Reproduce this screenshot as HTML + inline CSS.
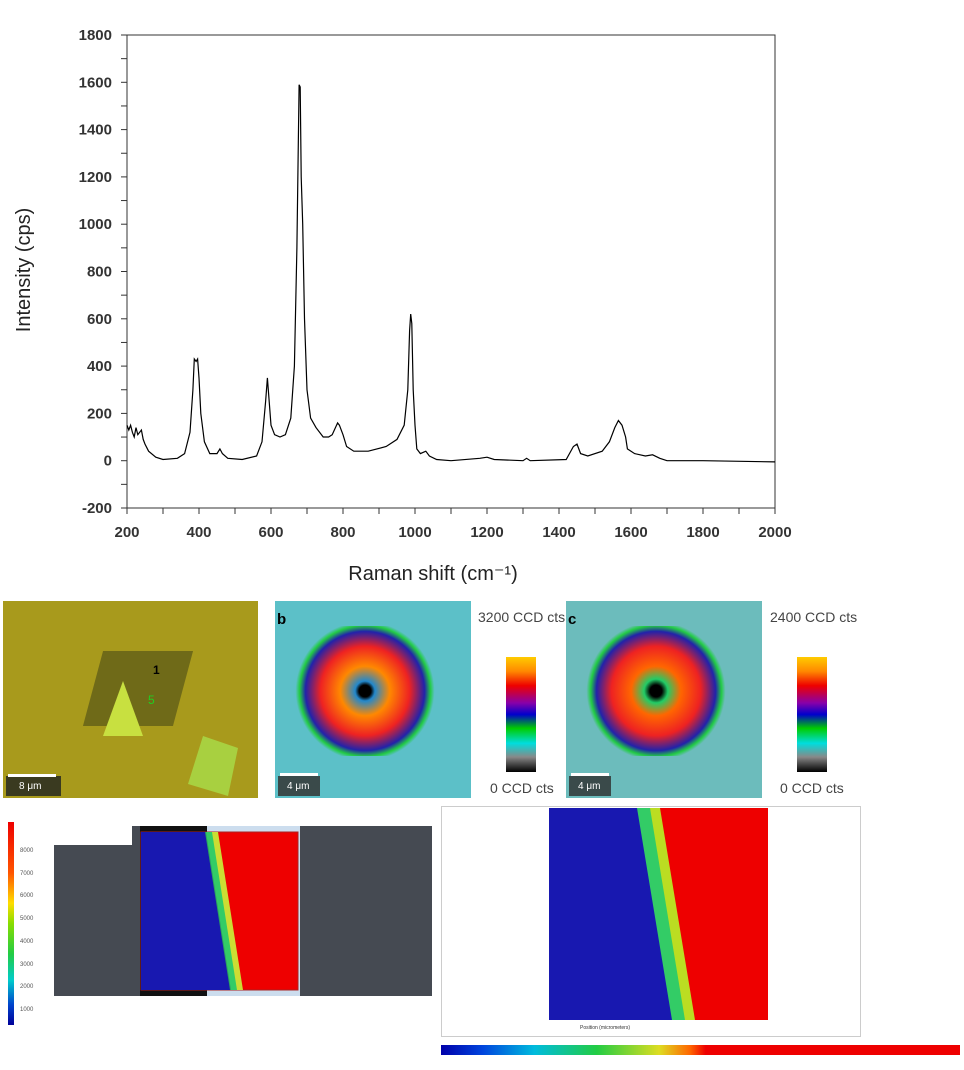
<!DOCTYPE html>
<html><head><meta charset="utf-8"><style>
body{margin:0;background:#fff;width:964px;height:1070px;overflow:hidden;position:relative;font-family:"Liberation Sans",sans-serif}
.a{position:absolute}
</style></head><body>
<svg class="a" style="left:0;top:0" width="964" height="600" id="ch">
<rect x="127" y="35" width="648" height="473" fill="none" stroke="#333" stroke-width="1"/>
<g id="tk" stroke="#333" stroke-width="1"></g>
<g id="lb" font-family="Liberation Sans" font-size="15" fill="#333" font-weight="bold"></g>
<path id="sp" fill="none" stroke="#000" stroke-width="1.2"/>
<text x="30" y="270" transform="rotate(-90 30 270)" text-anchor="middle" font-size="20" fill="#222">Intensity (cps)</text>
<text x="433" y="580" text-anchor="middle" font-size="20" fill="#222">Raman shift (cm⁻¹)</text>
</svg>
<script>
var X=w=>127+(w-200)*0.36,Y=v=>35+(1800-v)*0.2365;
var tk='',lb='';
for(var v=-200;v<=1800;v+=100){var y=Y(v);tk+='<line x1="121" x2="127" y1="'+y+'" y2="'+y+'"/>';if(v%200==0)lb+='<text x="112" y="'+(y+5)+'" text-anchor="end">'+v+'</text>';}
for(var w=200;w<=2000;w+=100){var x=X(w);tk+='<line x1="'+x+'" x2="'+x+'" y1="508" y2="514"/>';if(w%200==0)lb+='<text x="'+x+'" y="537" text-anchor="middle">'+w+'</text>';}
document.getElementById('tk').innerHTML=tk;document.getElementById('lb').innerHTML=lb;
var p=[200,150,205,130,210,150,215,120,220,100,225,140,230,110,240,130,245,90,250,70,260,40,280,15,300,5,340,10,360,30,375,120,383,300,387,430,392,420,396,430,400,350,405,200,415,80,430,30,450,30,458,50,465,30,480,10,520,5,560,20,575,80,585,250,590,350,595,250,600,150,610,110,625,100,640,110,655,180,665,400,672,900,678,1590,681,1580,684,1200,688,1000,693,600,700,300,710,180,725,140,745,100,760,100,770,110,785,160,790,150,800,110,810,60,830,40,870,40,920,60,950,90,970,150,980,300,985,550,988,620,991,580,995,300,1000,150,1005,50,1015,30,1030,40,1040,20,1060,5,1100,0,1180,10,1200,15,1220,5,1300,0,1310,10,1320,0,1420,5,1440,60,1450,70,1460,30,1480,20,1520,40,1540,80,1555,140,1565,170,1575,150,1585,100,1590,50,1610,30,1640,20,1660,25,1680,10,1700,0,1800,0,2000,-5];
var d='';for(var i=0;i<p.length;i+=2)d+=(i?'L':'M')+X(p[i]).toFixed(1)+','+Y(p[i+1]).toFixed(1);
document.getElementById('sp').setAttribute('d',d);
</script>
<!-- optical -->
<div class="a" style="left:3px;top:601px;width:255px;height:197px;background:#a89a1c;overflow:hidden">
<div class="a" style="left:90px;top:50px;width:90px;height:75px;background:#6f6a18;transform:skewX(-15deg)"></div>
<div class="a" style="left:100px;top:80px;width:40px;height:55px;background:#c8e040;clip-path:polygon(50% 0,100% 100%,0 100%)"></div>
<div class="a" style="left:185px;top:135px;width:50px;height:60px;background:#a8d040;clip-path:polygon(30% 0,100% 20%,80% 100%,0 80%)"></div>
<div class="a" style="left:150px;top:62px;font-size:12px;font-weight:bold">1</div>
<div class="a" style="left:145px;top:92px;font-size:12px;color:#2c2">5</div>
<div class="a" style="left:3px;top:175px;width:55px;height:20px;background:#3a3a20"></div>
<div class="a" style="left:5px;top:173px;width:48px;height:3px;background:#fff"></div>
<div class="a" style="left:16px;top:180px;font-size:10px;color:#fff">8 μm</div>
</div>
<!-- b and c -->
<div class="a" style="left:275px;top:601px;width:196px;height:197px;background:#5cc0c8;overflow:hidden">
<div class="a" style="left:15px;top:25px;width:150px;height:130px;background:radial-gradient(circle at 50% 50%,#000 0 6%,#28c 10%,#f80 25%,#e22 45%,#22a 60%,#2c4 66%,transparent 70%)"></div>
<div class="a" style="left:3px;top:175px;width:42px;height:20px;background:#3a4a4a"></div>
<div class="a" style="left:5px;top:172px;width:38px;height:3px;background:#fff"></div>
<div class="a" style="left:12px;top:180px;font-size:10px;color:#fff">4 μm</div>
<div class="a" style="left:2px;top:10px;font-size:15px;font-weight:bold">b</div>
</div>
<div class="a" style="left:566px;top:601px;width:196px;height:197px;background:#6cbcbc;overflow:hidden">
<div class="a" style="left:15px;top:25px;width:150px;height:130px;background:radial-gradient(circle at 50% 50%,#000 0 6%,#2c6 12%,#f60 25%,#e22 45%,#22a 60%,#2c4 66%,transparent 70%)"></div>
<div class="a" style="left:3px;top:175px;width:42px;height:20px;background:#3a4a4a"></div>
<div class="a" style="left:5px;top:172px;width:38px;height:3px;background:#fff"></div>
<div class="a" style="left:12px;top:180px;font-size:10px;color:#fff">4 μm</div>
<div class="a" style="left:2px;top:10px;font-size:15px;font-weight:bold">c</div>
</div>
<div class="a" style="left:506px;top:657px;width:30px;height:115px;background:linear-gradient(#fc0,#f80,#e00 25%,#80a 40%,#00c 50%,#0c0 62%,#0dd 75%,#888 87%,#000)"></div>
<div class="a" style="left:797px;top:657px;width:30px;height:115px;background:linear-gradient(#fc0,#f80,#e00 25%,#80a 40%,#00c 50%,#0c0 62%,#0dd 75%,#888 87%,#000)"></div>
<div class="a" style="left:478px;top:609px;font-size:14px;color:#444">3200 CCD cts</div>
<div class="a" style="left:490px;top:780px;font-size:14px;color:#444">0 CCD cts</div>
<div class="a" style="left:770px;top:609px;font-size:14px;color:#444">2400 CCD cts</div>
<div class="a" style="left:780px;top:780px;font-size:14px;color:#444">0 CCD cts</div>
<!-- bottom left -->
<div class="a" style="left:8px;top:822px;width:6px;height:203px;background:linear-gradient(#e00,#f50 25%,#fd0 40%,#8d0 50%,#2c4 65%,#0cc 78%,#04c 90%,#009)"></div>
<div class="a" style="left:20px;top:840px;font-size:6px;color:#555;line-height:22.7px">8000<br>7000<br>6000<br>5000<br>4000<br>3000<br>2000<br>1000</div>
<div class="a" style="left:54px;top:845px;width:378px;height:151px;background:#454a52"></div>
<div class="a" style="left:132px;top:826px;width:300px;height:20px;background:#454a52"></div>
<div class="a" style="left:140px;top:826px;width:160px;height:170px;background:#111"></div>
<div class="a" style="left:207px;top:826px;width:93px;height:170px;background:#cde"></div>
<svg class="a" style="left:0;top:800px" width="964" height="270">
<rect x="141" y="32" width="157" height="158" fill="#e00" stroke="#a22"/>
<polygon points="141,32 211,32 236,190 141,190" fill="#2ca060"/>
<polygon points="141,32 215,32 240,190 141,190" fill="#bd2" opacity=".0"/>
<polygon points="206,32 216,32 241,190 231,190" fill="#3c6"/>
<polygon points="212,32 218,32 243,190 237,190" fill="#cd3"/>
<polygon points="141,32 205,32 230,190 141,190" fill="#1818b0"/>
<rect x="549" y="8" width="219" height="212" fill="#e00"/>
<polygon points="636,8 656,8 691,220 671,220" fill="#3c6"/>
<polygon points="650,8 660,8 695,220 685,220" fill="#bd2"/>
<polygon points="549,8 637,8 672,220 549,220" fill="#1818b0"/>
</svg>
<!-- bottom right -->
<div class="a" style="left:441px;top:806px;width:418px;height:229px;border:1px solid #ccc"></div>
<div class="a" style="left:580px;top:1025px;font-size:5px;color:#333">Position (micrometers)</div>
<div class="a" style="left:441px;top:1045px;width:519px;height:10px;background:linear-gradient(90deg,#00a,#04d 8%,#0bd 18%,#2c4 30%,#dd2 42%,#f60 48%,#e00 51%,#e00)"></div>
</body></html>
